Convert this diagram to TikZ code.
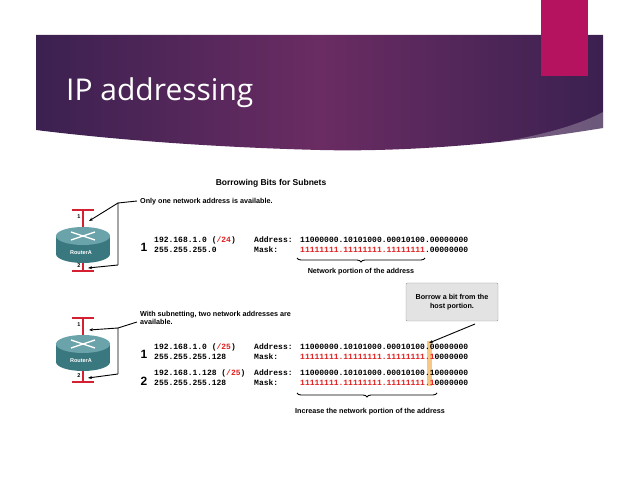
\documentclass[tikz,border=0pt]{standalone}
\usepackage{fontspec}
\setmainfont{Liberation Sans}
\newfontfamily\titlefont{Open Sans}
\newfontfamily\monof{Liberation Mono}
\usetikzlibrary{decorations.pathreplacing,arrows.meta}
\definecolor{pinkbar}{HTML}{B5135F}
\definecolor{purpA}{HTML}{3B2150}
\definecolor{purpB}{HTML}{6A2C63}
\definecolor{bitred}{HTML}{E02020}
\definecolor{barred}{HTML}{D42030}
\definecolor{hl}{HTML}{F7C885}
\definecolor{teal1}{HTML}{6AA3AA}
\definecolor{teal2}{HTML}{3A7880}
\tikzset{
  mono/.style={font=\monof\bfseries\fontsize{8}{8}\selectfont, anchor=base west, inner sep=0pt},
  lbl/.style={font=\bfseries\fontsize{7.2}{8.5}\selectfont, anchor=base west, inner sep=0pt, align=left},
  big/.style={font=\bfseries\fontsize{12}{12}\selectfont, inner sep=0pt},
  bar/.style={color=barred, line width=1.4pt},
  ptr/.style={-{Stealth[length=4pt]}, line width=0.9pt},
  brace/.style={decorate, decoration={brace, mirror, amplitude=4pt}, line width=0.9pt},
  port/.style={font=\bfseries\fontsize{5.5}{6}\selectfont, inner sep=0pt},
}
\newcommand{\routericon}[2]{%
  \fill[teal2] (#1,#2+18) ellipse[x radius=27,y radius=9];
  \fill[teal2] (#1-27,#2) rectangle (#1+27,#2+18);
  \fill[teal1] (#1,#2) ellipse[x radius=27,y radius=9];
  \draw[white,line width=1.3pt] (#1-12,#2-4) -- (#1+12,#2+4) (#1-12,#2+4) -- (#1+12,#2-4);
  \node[font=\bfseries\fontsize{5.5}{6}\selectfont,text=white] at (#1-2,#2+17) {RouterA};
}
\begin{document}
\begin{tikzpicture}[x=1pt,y=-1pt]
\useasboundingbox (0,0) rectangle (638,478);
\fill[white] (0,0) rectangle (638,478);
% banner
\shade[left color=purpA, right color=purpA, middle color=purpB]
  (36,35) -- (603,35) -- (603,128) .. controls (500,145) and (400,152) .. (320,150) .. controls (200,147) and (100,138) .. (36,130) -- cycle;
\fill[white,opacity=0.25] (603,112) .. controls (560,135) and (480,148) .. (420,150) .. controls (500,148) and (560,138) .. (603,128) -- cycle;
\fill[pinkbar] (541,0) rectangle (588,76);
\node[font=\titlefont\fontsize{30}{30}\selectfont, text=white, anchor=base west, inner sep=0pt] (title) at (66,101) {IP addressing};
% heading
\node[font=\bfseries\fontsize{8.5}{9}\selectfont] (head) at (271,183) {Borrowing Bits for Subnets};

% ---------- part 1 ----------
\draw[bar] (72,210) -- (94,210) (83,210) -- (83,230);
\draw[bar] (72,271) -- (94,271) (83,260) -- (83,271);
\routericon{83}{236}
\node[port] (p1a) at (79,217) {1};
\node[port] (p1b) at (79,266) {2};
\coordinate (b1t) at (118,203);
\coordinate (b1b) at (118,265);
\coordinate (t1a) at (89,221);
\coordinate (t1b) at (88,268);
\node[lbl] (only) at (140,204) {Only one network address is available.};
\draw[line width=0.9pt] (137,201) -- (b1t) -- (b1b);
\draw[ptr] (b1t) -- (t1a);
\draw[ptr] (b1b) -- (t1b);
\node[big] (n1) at (144,247) {1};
\node[mono] (ip1) at (154,243) {192.168.1.0 (\textcolor{bitred}{/24})};
\node[mono] (m1) at (154,253) {255.255.255.0};
\node[mono] (al1) at (254,243) {Address:};
\node[mono] (ml1) at (254,253) {Mask:};
\node[mono] (a1) at (300,243) {11000000.10101000.00010100.00000000};
\node[mono] (k1) at (300,253) {\textcolor{bitred}{11111111.11111111.11111111}.00000000};
\coordinate (br1a) at (297,258);
\coordinate (br1b) at (425,258);
\draw[brace] (br1a) -- (br1b);
\node[lbl,anchor=center] (np) at (361,272) {Network portion of the address};

% ---------- part 2 ----------
\node[draw=gray!80, fill=gray!22, minimum width=92pt, minimum height=38pt, align=center,
  font=\bfseries\fontsize{7.2}{9.5}\selectfont, rounded corners=1pt] (box) at (452,302) {Borrow a bit from the\\host portion.};
\fill[hl] (427,341) rectangle (432,386);
\coordinate (hlt) at (429,343);
\draw[ptr] (475,324) -- (hlt);

\draw[bar] (72,318) -- (94,318) (83,318) -- (83,338);
\draw[bar] (72,382) -- (94,382) (83,368) -- (83,382);
\routericon{83}{344}
\node[port] (p2a) at (79,325) {1};
\node[port] (p2b) at (79,376) {2};
\coordinate (b2t) at (118,328);
\coordinate (b2b) at (118,374);
\coordinate (t2a) at (89,330);
\coordinate (t2b) at (88,378);
\node[lbl] (with) at (140,325) {With subnetting, two network addresses are\\available.};
\draw[line width=0.9pt] (137,322) -- (b2t) -- (b2b);
\draw[ptr] (b2t) -- (t2a);
\draw[ptr] (b2b) -- (t2b);
\node[big] (n2a) at (144,354) {1};
\node[mono] (ip2) at (154,350) {192.168.1.0 (\textcolor{bitred}{/25})};
\node[mono] (m2) at (154,360) {255.255.255.128};
\node[mono] (al2) at (254,350) {Address:};
\node[mono] (ml2) at (254,360) {Mask:};
\node[mono] (a2) at (300,350) {11000000.10101000.00010100.00000000};
\node[mono] (k2) at (300,360) {\textcolor{bitred}{11111111.11111111.11111111.1}0000000};
\node[big] (n2b) at (144,381) {2};
\node[mono] (ip3) at (154,376) {192.168.1.128 (\textcolor{bitred}{/25})};
\node[mono] (m3) at (154,386) {255.255.255.128};
\node[mono] (al3) at (254,376) {Address:};
\node[mono] (ml3) at (254,386) {Mask:};
\node[mono] (a3) at (300,376) {11000000.10101000.00010100.10000000};
\node[mono] (k3) at (300,386) {\textcolor{bitred}{11111111.11111111.11111111.1}0000000};
\coordinate (br2a) at (297,393);
\coordinate (br2b) at (437,393);
\draw[brace] (br2a) -- (br2b);
\node[lbl,anchor=center] (inc) at (370,412) {Increase the network portion of the address};
\end{tikzpicture}
\end{document}
